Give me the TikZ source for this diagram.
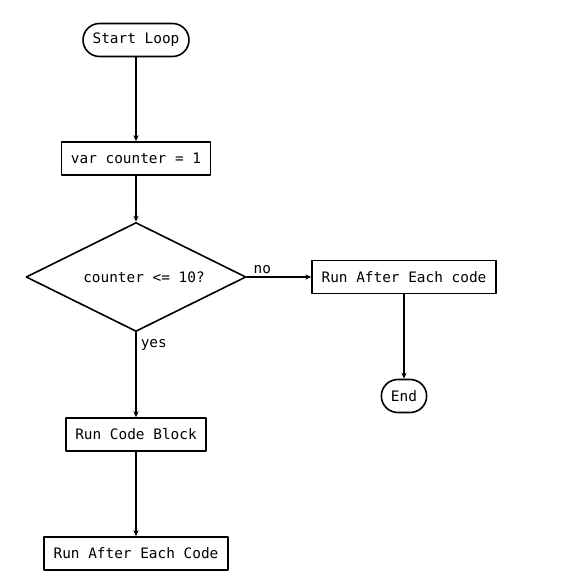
\documentclass[tikz,border=0pt]{standalone}
\usepackage{fontspec}
\setmonofont{DejaVu Sans Mono}
\usetikzlibrary{shapes.geometric,arrows.meta}
\begin{document}
\begin{tikzpicture}[line cap=round,line join=round,>={Stealth[length=3pt,width=2.6pt]},x=0.5pt,y=-0.5pt,
		every node/.style={font=\ttfamily\fontsize{7.2}{9}\selectfont},
		box/.style={draw,line width=0.8pt,minimum height=16.5pt,inner xsep=4.8pt,inner ysep=0pt},
		term/.style={box,rounded corners=8.2pt},
		decision/.style={draw,diamond,aspect=2.02,line width=0.8pt,minimum width=110pt,minimum height=54.5pt,inner sep=0pt},
		flow/.style={->,line width=0.8pt}]
		\useasboundingbox (0,0) rectangle (579,577);
		\node[term] (start) at (136,40) {Start Loop};
		\node[box] (init) at (136,158.5) {var counter = 1};
		\node[decision] (test) at (136,277) {\hspace{8pt}counter <= 10?};
		\node[box] (after) at (404,277) {Run After Each code};
		\node[term] (end) at (404,396) {End};
		\node[box] (body) at (136,434.5) {Run Code Block};
		\node[box] (next) at (136,553.5) {Run After Each Code};
		\draw[flow] (start) -- (init);
		\draw[flow] (init) -- (test);
		\draw[flow] (test.east) -- (after.west) node[pos=0,anchor=south west,inner sep=1pt,xshift=2pt]{no};
		\draw[flow] (test.south) -- (body.north) node[pos=0,anchor=north west,inner sep=1pt,xshift=1pt,yshift=-2pt]{yes};
		\draw[flow] (after) -- (end);
		\draw[flow] (body) -- (next);
\end{tikzpicture}
\end{document}
